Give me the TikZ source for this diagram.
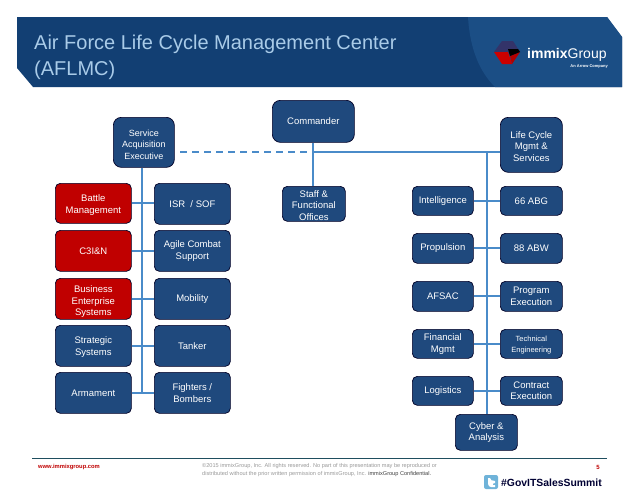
\documentclass[tikz,border=0pt]{standalone}
\usepackage{fontspec}
\setmainfont{Liberation Sans}
\usetikzlibrary{calc}
\definecolor{boxblue}{HTML}{1F497D}
\definecolor{boxred}{HTML}{C00000}
\definecolor{linkblue}{HTML}{4A8BC9}
\definecolor{bandark}{HTML}{123F73}
\definecolor{banlight}{HTML}{1B4E85}
\definecolor{titletxt}{HTML}{A9CBE8}
\definecolor{rulecol}{HTML}{1F4E5F}
\definecolor{twit}{HTML}{6FB3D9}
\newcommand{\up}[1]{\rule{0pt}{#1pt}}
\tikzset{
  x=1pt,y=-1pt,
  org/.style={draw=black!85!blue,line width=0.7pt,rounded corners=5pt,fill=boxblue,text=white,align=center,font=\fontsize{9.5}{11.5}\selectfont,inner sep=0pt,anchor=north west},
  bigcorner/.style={org,rounded corners=8pt},
  redorg/.style={org,fill=boxred},
  smallorg/.style={org,font=\fontsize{7.5}{10.5}\selectfont},
  link/.style={draw=linkblue,line width=1.8pt},
  dashlink/.style={link,dash pattern=on 7pt off 5pt},
  foot/.style={font=\fontsize{5.6}{8.7}\selectfont,text=black!40,align=left,anchor=north west,inner sep=0pt},
}
\newcommand{\orgbox}[6][org]{\node[#1,minimum width=#4pt,minimum height=#5pt] (#2) at (#3) {#6};}
\begin{document}
\begin{tikzpicture}
\useasboundingbox (0,0) rectangle (638,493);
\fill[white] (0,0) rectangle (638,493);
% banner
\fill[bandark] (17,17) -- (607,17) -- (622,37) -- (622,87) -- (33,87) -- (17,68) -- cycle;
\fill[banlight] (468,17) .. controls (470,50) and (480,72) .. (495,87) -- (622,87) -- (622,37) -- (607,17) -- cycle;
\node[anchor=base west,inner sep=0pt,text=titletxt,font=\fontsize{20}{26}\selectfont] (title1) at (34,49) {Air Force Life Cycle Management Center};
\node[anchor=base west,inner sep=0pt,text=titletxt,font=\fontsize{20}{26}\selectfont] (title2) at (34,75) {(AFLMC)};
% logo
\fill[black!65!blue!60!gray] (494,52) -- (502,41) -- (513,41) -- (520,52) -- (512,58) -- (508,52) -- cycle;
\fill[red!80!black] (494,52) -- (508,52) -- (512,64) -- (502,64) -- cycle;
\fill[red!70!black] (512,64) -- (510,56) -- (520,52) -- cycle;
\fill[black] (508,49) -- (518,49) -- (520,52) -- (510,56) -- cycle;
\node[anchor=base west,inner sep=0pt,text=white,font=\fontsize{14}{16}\selectfont] (logo) at (527,58) {\textbf{immix}Group};
\node[anchor=base east,inner sep=0pt,text=white,font=\fontsize{4}{5}\selectfont\bfseries] (logosub) at (608,67) {An Arrow Company};
% boxes
\orgbox[bigcorner]{sae}{113,117}{61}{50}{\fontsize{9}{10.5}\selectfont\up{10.5}Service\\\fontsize{9}{10.5}\selectfont Acquisition\\\fontsize{9}{10.5}\selectfont Executive}
\orgbox[bigcorner]{cmd}{272,100}{82}{42}{Commander}
\orgbox{staff}{282,186}{63}{35}{\up{10}Staff \&\\Functional\\Offices}
\orgbox[redorg]{battle}{55,183}{76}{40}{\up{10.5}Battle\\Management}
\orgbox{isr}{154,183}{76}{41}{ISR~~/ SOF}
\orgbox[redorg]{c3}{55,230}{76}{41}{\up{8}C3I\&N}
\orgbox{agile}{154,230}{76}{41}{Agile Combat\\Support}
\orgbox[redorg]{bus}{55,278}{76}{41}{\up{13}Business\\Enterprise\\Systems}
\orgbox{mob}{154,278}{76}{41}{Mobility}
\orgbox{strat}{55,325}{76}{41}{\up{9.5}Strategic\\Systems}
\orgbox{tank}{154,325}{76}{41}{Tanker}
\orgbox{arm}{55,372}{76}{41}{Armament}
\orgbox{fight}{154,372}{76}{41}{Fighters /\\Bombers}
\orgbox[bigcorner]{life}{500,117}{62}{55}{\up{10}Life Cycle\\Mgmt \&\\Services}
\orgbox{intel}{412,186}{61}{29}{Intelligence}
\orgbox{abg}{500,186}{62}{29}{66 ABG}
\orgbox{prop}{412,233}{61}{30}{Propulsion}
\orgbox{abw}{500,233}{62}{30}{88 ABW}
\orgbox{afsac}{412,281}{61}{30}{AFSAC}
\orgbox{pe}{500,281}{62}{30}{Program\\Execution}
\orgbox{fin}{412,329}{61}{29}{Financial\\Mgmt}
\orgbox[smallorg]{tech}{500,329}{62}{29}{\up{8}Technical\\Engineering}
\orgbox{logi}{412,376}{61}{29}{Logistics}
\orgbox{ce}{500,376}{62}{29}{Contract\\Execution}
\orgbox{cyber}{455,414}{62}{36}{Cyber \&\\Analysis}
% connectors
\coordinate (j1) at (313,152);
\coordinate (j2) at (487,152);
\coordinate (dashstart) at (180,152);
\draw[dashlink] (dashstart) -- (j1);
\draw[link] (j1) -- (life.west |- j1);
\draw[link] (j1 |- cmd.south) -- (j1 |- staff.north);
\coordinate (sv) at (142,393);
\draw[link] (sv |- sae.south) -- (sv);
\foreach \a/\b in {battle/isr,c3/agile,bus/mob,strat/tank,arm/fight}{
  \draw[link] (\a.east) -- (\b.west |- \a.east);
}
\draw[link] (j2) -- (j2 |- cyber.north);
\foreach \a/\b in {intel/abg,prop/abw,afsac/pe,fin/tech,logi/ce}{
  \draw[link] (\a.east) -- (\b.west);
}
% footer
\coordinate (r1) at (32,458);
\coordinate (r2) at (607,458);
\draw[rulecol,line width=1pt] (r1) -- (r2);
\node[anchor=north west,inner sep=0pt,text=boxred,font=\fontsize{5.8}{7}\selectfont\bfseries] (www) at (38,464) {www.immixgroup.com};
\node[foot] (copy) at (202,463) {©2015 immixGroup, Inc. All rights reserved. No part of this presentation may be reproduced or\\distributed without the prior written permission of immixGroup, Inc. \textcolor{black!75}{immixGroup Confidential.}};
\node[anchor=north east,inner sep=0pt,text=boxred,font=\fontsize{6}{7}\selectfont\bfseries] (pg) at (600,465) {5};
\fill[twit,rounded corners=2pt] (484,475) rectangle (498,489);
\fill[white] (488,478) -- (490,478) .. controls (490,480) and (492,481) .. (495,481) -- (495,483) .. controls (492,483) and (492,486) .. (495,485) -- (495,487) .. controls (490,488) and (488,486) .. (488,483) -- cycle;
\node[anchor=west,inner sep=0pt,text=black!80!blue,font=\fontsize{10.4}{13}\selectfont\bfseries] (tag) at (501,483) {\#GovITSalesSummit};
\end{tikzpicture}
\end{document}
